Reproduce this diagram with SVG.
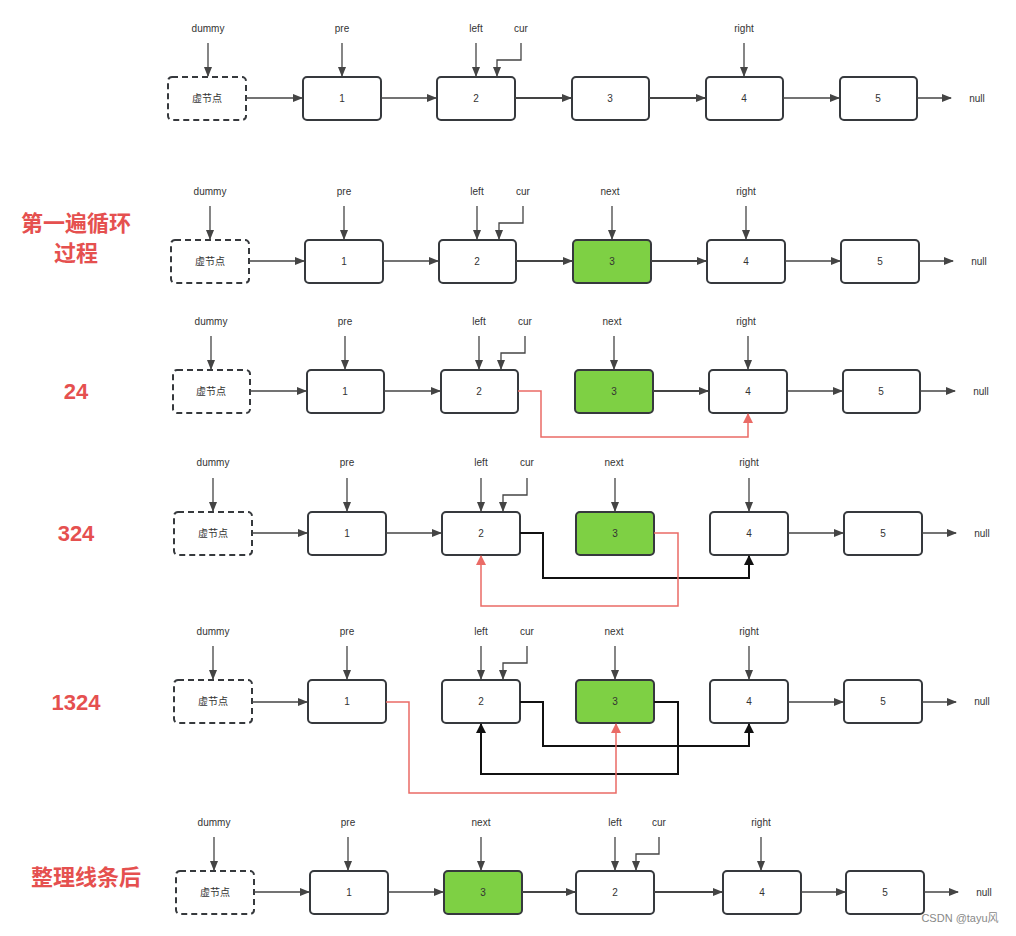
<svg xmlns="http://www.w3.org/2000/svg" width="1016" height="936" viewBox="0 0 1016 936">
<style>
.n{fill:#fff;stroke:#36393d;stroke-width:2}
.g{fill:#7ed044;stroke:#36393d;stroke-width:2}
.d{fill:#fff;stroke:#36393d;stroke-width:2;stroke-dasharray:6 4}
text{font-family:"Liberation Sans","Noto Sans CJK SC",sans-serif;font-size:10px;fill:#333;text-anchor:middle}
.t{font-size:22px;font-weight:bold;fill:#e5504f}
.c{fill:none;stroke:#444;stroke-width:1.3;marker-end:url(#a)}
.k{fill:none;stroke:#111;stroke-width:2;marker-end:url(#b)}
.r{fill:none;stroke:#ea6b66;stroke-width:1.5;marker-end:url(#ar)}
</style>
<defs>
<marker id="a" markerWidth="10" markerHeight="8" refX="9" refY="4" orient="auto" markerUnits="userSpaceOnUse"><path d="M0,0L10,4L0,8z" fill="#444"/></marker>
<marker id="b" markerWidth="10" markerHeight="10" refX="9" refY="5" orient="auto" markerUnits="userSpaceOnUse"><path d="M0,0L10,5L0,10z" fill="#111"/></marker>
<marker id="ar" markerWidth="10" markerHeight="10" refX="9" refY="5" orient="auto" markerUnits="userSpaceOnUse"><path d="M0,0L10,5L0,10z" fill="#ea6b66"/></marker>
</defs>
<g id="titles">
<text class="t" x="76" y="231">第一遍循环</text><text class="t" x="76" y="261">过程</text>
<text class="t" x="76" y="399">24</text><text class="t" x="76" y="541">324</text>
<text class="t" x="76" y="710">1324</text><text class="t" x="86" y="885">整理线条后</text>
<text x="960" y="922" style="font-size:11px;fill:#888">CSDN @tayu风</text>
</g>
<!-- Row 1 -->
<g id="r1">
<g id="r1d"><rect class="d" x="168" y="77" width="78" height="43" rx="4"/><text x="207" y="102">虚节点</text></g>
<g id="r1n1"><rect class="n" x="303" y="77" width="78" height="43" rx="4"/><text x="342" y="102">1</text></g>
<g id="r1n2"><rect class="n" x="437" y="77" width="78" height="43" rx="4"/><text x="476" y="102">2</text></g>
<g id="r1n3"><rect class="n" x="572" y="77" width="77" height="43" rx="4"/><text x="610" y="102">3</text></g>
<g id="r1n4"><rect class="n" x="706" y="77" width="77" height="43" rx="4"/><text x="744" y="102">4</text></g>
<g id="r1n5"><rect class="n" x="840" y="77" width="77" height="43" rx="4"/><text x="878" y="102">5</text></g>
<text x="208" y="32">dummy</text><text x="342" y="32">pre</text><text x="476" y="32">left</text><text x="521" y="32">cur</text><text x="744" y="32">right</text><text x="977" y="102">null</text>
</g>
<g id="r1c">
<path class="c" d="M208,43V76"/><path class="c" d="M342,43V76"/><path class="c" d="M476,43V76"/><path class="c" d="M521,43V60H497V76"/><path class="c" d="M744,43V76"/>
<path class="c" d="M246,98H302"/><path class="c" d="M381,98H436"/><path class="c" d="M515,98H571" style="stroke-width:2"/><path class="c" d="M649,98H705" style="stroke-width:2"/><path class="c" d="M783,98H839"/><path class="c" d="M917,98H951"/>
</g>
<!-- Row 2 -->
<g id="r2">
<g id="r2d"><rect class="d" x="171" y="240" width="78" height="43" rx="4"/><text x="210" y="265">虚节点</text></g>
<g id="r2n1"><rect class="n" x="305" y="240" width="78" height="43" rx="4"/><text x="344" y="265">1</text></g>
<g id="r2n2"><rect class="n" x="439" y="240" width="77" height="43" rx="4"/><text x="477" y="265">2</text></g>
<g id="r2n3"><rect class="g" x="573" y="240" width="78" height="43" rx="4"/><text x="612" y="265">3</text></g>
<g id="r2n4"><rect class="n" x="707" y="240" width="78" height="43" rx="4"/><text x="746" y="265">4</text></g>
<g id="r2n5"><rect class="n" x="841" y="240" width="78" height="43" rx="4"/><text x="880" y="265">5</text></g>
<text x="210" y="195">dummy</text><text x="344" y="195">pre</text><text x="477" y="195">left</text><text x="523" y="195">cur</text><text x="610" y="195">next</text><text x="746" y="195">right</text><text x="979" y="265">null</text>
</g>
<g id="r2c">
<path class="c" d="M210,206V239"/><path class="c" d="M344,206V239"/><path class="c" d="M477,206V239"/><path class="c" d="M523,206V223H499V239"/><path class="c" d="M612,206V239"/><path class="c" d="M746,206V239"/>
<path class="c" d="M249,261H304"/><path class="c" d="M383,261H438"/><path class="c" d="M516,261H572" style="stroke-width:2"/><path class="c" d="M651,261H706" style="stroke-width:2"/><path class="c" d="M785,261H840"/><path class="c" d="M919,261H953"/>
</g>
<!-- Row 3 -->
<g id="r3">
<g id="r3d"><rect class="d" x="173" y="370" width="77" height="43" rx="4"/><text x="211" y="395">虚节点</text></g>
<g id="r3n1"><rect class="n" x="307" y="370" width="77" height="43" rx="4"/><text x="345" y="395">1</text></g>
<g id="r3n2"><rect class="n" x="441" y="370" width="77" height="43" rx="4"/><text x="479" y="395">2</text></g>
<g id="r3n3"><rect class="g" x="575" y="370" width="78" height="43" rx="4"/><text x="614" y="395">3</text></g>
<g id="r3n4"><rect class="n" x="709" y="370" width="78" height="43" rx="4"/><text x="748" y="395">4</text></g>
<g id="r3n5"><rect class="n" x="843" y="370" width="77" height="43" rx="4"/><text x="881" y="395">5</text></g>
<text x="211" y="325">dummy</text><text x="345" y="325">pre</text><text x="479" y="325">left</text><text x="525" y="325">cur</text><text x="612" y="325">next</text><text x="746" y="325">right</text><text x="981" y="395">null</text>
</g>
<g id="r3c">
<path class="c" d="M211,336V369"/><path class="c" d="M345,336V369"/><path class="c" d="M479,336V369"/><path class="c" d="M525,336V353H501V369"/><path class="c" d="M614,336V369"/><path class="c" d="M748,336V369"/>
<path class="c" d="M250,391H306"/><path class="c" d="M384,391H440"/><path class="c" d="M653,391H708" style="stroke-width:2"/><path class="c" d="M787,391H842"/><path class="c" d="M920,391H955"/>
<path class="r" d="M518,391H541V437H748V414"/>
</g>
<!-- Row 4 -->
<g id="r4">
<g id="r4d"><rect class="d" x="174" y="512" width="78" height="43" rx="4"/><text x="213" y="537">虚节点</text></g>
<g id="r4n1"><rect class="n" x="308" y="512" width="78" height="43" rx="4"/><text x="347" y="537">1</text></g>
<g id="r4n2"><rect class="n" x="442" y="512" width="78" height="43" rx="4"/><text x="481" y="537">2</text></g>
<g id="r4n3"><rect class="g" x="576" y="512" width="78" height="43" rx="4"/><text x="615" y="537">3</text></g>
<g id="r4n4"><rect class="n" x="710" y="512" width="78" height="43" rx="4"/><text x="749" y="537">4</text></g>
<g id="r4n5"><rect class="n" x="844" y="512" width="78" height="43" rx="4"/><text x="883" y="537">5</text></g>
<text x="213" y="466">dummy</text><text x="347" y="466">pre</text><text x="481" y="466">left</text><text x="527" y="466">cur</text><text x="614" y="466">next</text><text x="749" y="466">right</text><text x="982" y="537">null</text>
</g>
<g id="r4c">
<path class="c" d="M213,478V511"/><path class="c" d="M347,478V511"/><path class="c" d="M481,478V511"/><path class="c" d="M527,478V495H503V511"/><path class="c" d="M615,478V511"/><path class="c" d="M749,478V511"/>
<path class="c" d="M252,533H307"/><path class="c" d="M386,533H441"/><path class="c" d="M788,533H843"/><path class="c" d="M922,533H956"/>
<path class="k" d="M520,533H543V578H749V556"/>
<path class="r" d="M654,533H678V606H481V556"/>
</g>
<!-- Row 5 -->
<g id="r5">
<g id="r5d"><rect class="d" x="174" y="680" width="78" height="43" rx="4"/><text x="213" y="705">虚节点</text></g>
<g id="r5n1"><rect class="n" x="308" y="680" width="78" height="43" rx="4"/><text x="347" y="705">1</text></g>
<g id="r5n2"><rect class="n" x="442" y="680" width="78" height="43" rx="4"/><text x="481" y="705">2</text></g>
<g id="r5n3"><rect class="g" x="576" y="680" width="78" height="43" rx="4"/><text x="615" y="705">3</text></g>
<g id="r5n4"><rect class="n" x="710" y="680" width="78" height="43" rx="4"/><text x="749" y="705">4</text></g>
<g id="r5n5"><rect class="n" x="844" y="680" width="78" height="43" rx="4"/><text x="883" y="705">5</text></g>
<text x="213" y="635">dummy</text><text x="347" y="635">pre</text><text x="481" y="635">left</text><text x="527" y="635">cur</text><text x="614" y="635">next</text><text x="749" y="635">right</text><text x="982" y="705">null</text>
</g>
<g id="r5c">
<path class="c" d="M213,646V679"/><path class="c" d="M347,646V679"/><path class="c" d="M481,646V679"/><path class="c" d="M527,646V663H503V679"/><path class="c" d="M615,646V679"/><path class="c" d="M749,646V679"/>
<path class="c" d="M252,702H307"/><path class="c" d="M788,702H843"/><path class="c" d="M922,702H956"/>
<path class="k" d="M520,702H543V746H749V724"/>
<path class="k" d="M654,702H678V774H481V724"/>
<path class="r" d="M386,702H409V793H616V724"/>
</g>
<!-- Row 6 -->
<g id="r6">
<g id="r6d"><rect class="d" x="176" y="871" width="78" height="43" rx="4"/><text x="215" y="896">虚节点</text></g>
<g id="r6n1"><rect class="n" x="310" y="871" width="78" height="43" rx="4"/><text x="349" y="896">1</text></g>
<g id="r6n3"><rect class="g" x="444" y="871" width="78" height="43" rx="4"/><text x="483" y="896">3</text></g>
<g id="r6n2"><rect class="n" x="576" y="871" width="78" height="43" rx="4"/><text x="615" y="896">2</text></g>
<g id="r6n4"><rect class="n" x="723" y="871" width="78" height="43" rx="4"/><text x="762" y="896">4</text></g>
<g id="r6n5"><rect class="n" x="846" y="871" width="78" height="43" rx="4"/><text x="885" y="896">5</text></g>
<text x="214" y="826">dummy</text><text x="348" y="826">pre</text><text x="481" y="826">next</text><text x="615" y="826">left</text><text x="659" y="826">cur</text><text x="761" y="826">right</text><text x="984" y="896">null</text>
</g>
<g id="r6c">
<path class="c" d="M214,837V870"/><path class="c" d="M348,837V870"/><path class="c" d="M481,837V870"/><path class="c" d="M615,837V870"/><path class="c" d="M659,837V854H636V870"/><path class="c" d="M761,837V870"/>
<path class="c" d="M254,892H309"/><path class="c" d="M388,892H443"/><path class="c" d="M522,892H575" style="stroke-width:2"/><path class="c" d="M654,892H722" style="stroke-width:2"/><path class="c" d="M801,892H845"/><path class="c" d="M924,892H958"/>
</g>
</svg>
